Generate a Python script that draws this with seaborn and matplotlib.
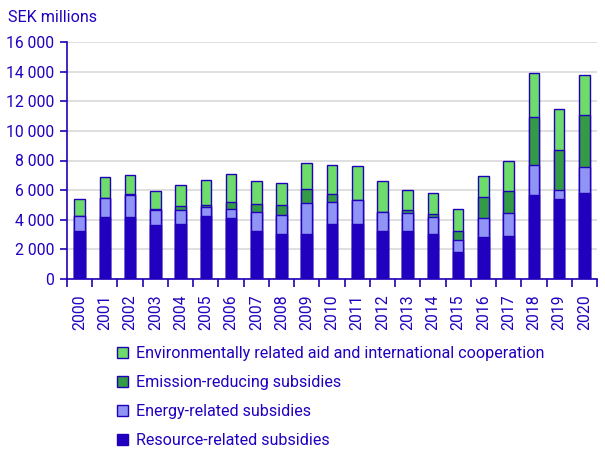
import matplotlib
matplotlib.use("Agg")
import matplotlib.pyplot as plt
import seaborn as sns
import numpy as np
import pandas as pd
from matplotlib.patches import Patch
from matplotlib.ticker import FuncFormatter, FixedLocator

years = [str(y) for y in range(2000, 2021)]
resource = [3240, 4170, 4170, 3650, 3720, 4230, 4120, 3240, 3040, 3040, 3720,
            3720, 3240, 3240, 3040, 1820, 2840, 2910, 5680, 5410, 5810]
energy = [990, 1280, 1480, 990, 920, 610, 590, 1260, 1260, 2070, 1460,
          1600, 1260, 1200, 1130, 790, 1260, 1530, 2000, 580, 1740]
emission = [0, 0, 90, 90, 270, 140, 470, 550, 680, 950, 540,
            0, 0, 200, 200, 610, 1420, 1480, 3240, 2700, 3510]
aid = [1150, 1420, 1260, 1190, 1420, 1690, 1890, 1550, 1480, 1760, 1960,
       2290, 2100, 1350, 1420, 1490, 1420, 2030, 2980, 2770, 2700]

labels = ["Resource-related subsidies", "Energy-related subsidies",
          "Emission-reducing subsidies",
          "Environmentally related aid and international cooperation"]
colors = ["#2200C0", "#8F94F5", "#339A46", "#6EDC6A"]
edge = "#2000B8"
txt = "#2200C0"

plt.rcParams['font.family'] = ['Roboto', 'DejaVu Sans']

df = pd.DataFrame({"year": years, "resource": resource, "energy": energy,
                   "emission": emission, "aid": aid})
cum = df[["resource", "energy", "emission", "aid"]].cumsum(axis=1)

fig = plt.figure(figsize=(6.05, 4.54), dpi=100)
ax = fig.add_axes([67/605, 1-279/454, (597-67)/605, (279-42)/454])

for col, c in zip(["aid", "emission", "energy", "resource"], colors[::-1]):
    sns.barplot(x=df["year"], y=cum[col], color=c, edgecolor=edge,
                linewidth=1.0, width=0.42, ax=ax, saturation=1)

ax.set_xlim(-0.5, 20.5)
ax.set_ylim(0, 16000)
ax.yaxis.set_major_locator(FixedLocator(np.arange(0, 16001, 2000)))
ax.yaxis.set_major_formatter(FuncFormatter(lambda v, p: f"{int(v):,}".replace(",", " ")))
ax.grid(axis='y', color='#d9d9d9', linewidth=1.2)
ax.set_axisbelow(True)
for s in ['top', 'right']:
    ax.spines[s].set_visible(False)
for s in ['left', 'bottom']:
    ax.spines[s].set_color(edge)
    ax.spines[s].set_linewidth(1.2)
ax.set_xlabel("")
ax.set_ylabel("")
ax.tick_params(axis='y', colors=edge, labelcolor=txt, labelsize=11.3, length=5, width=1.2, pad=4)
ax.tick_params(axis='x', which='major', length=0, labelcolor=txt, labelsize=11.3,
               labelrotation=90, pad=11)
ax.set_xticks(np.arange(-0.5, 20.6, 1), minor=True)
ax.tick_params(axis='x', which='minor', length=6, width=1.2, colors=edge)

fig.text(8/605, 1-18/454, "SEK millions", color=txt, fontsize=11.6, va='center', ha='left')

handles = [Patch(facecolor=c, edgecolor=edge, linewidth=1.0) for c in colors][::-1]
fig.legend(handles, labels[::-1], loc='upper left', bbox_to_anchor=(117/605, 1-346/454),
           frameon=False, fontsize=11.6, labelcolor=txt, handlelength=0.7,
           handleheight=0.7, handletextpad=0.45, labelspacing=0.87,
           borderpad=0, borderaxespad=0)

fig.savefig("out.png", dpi=100)
